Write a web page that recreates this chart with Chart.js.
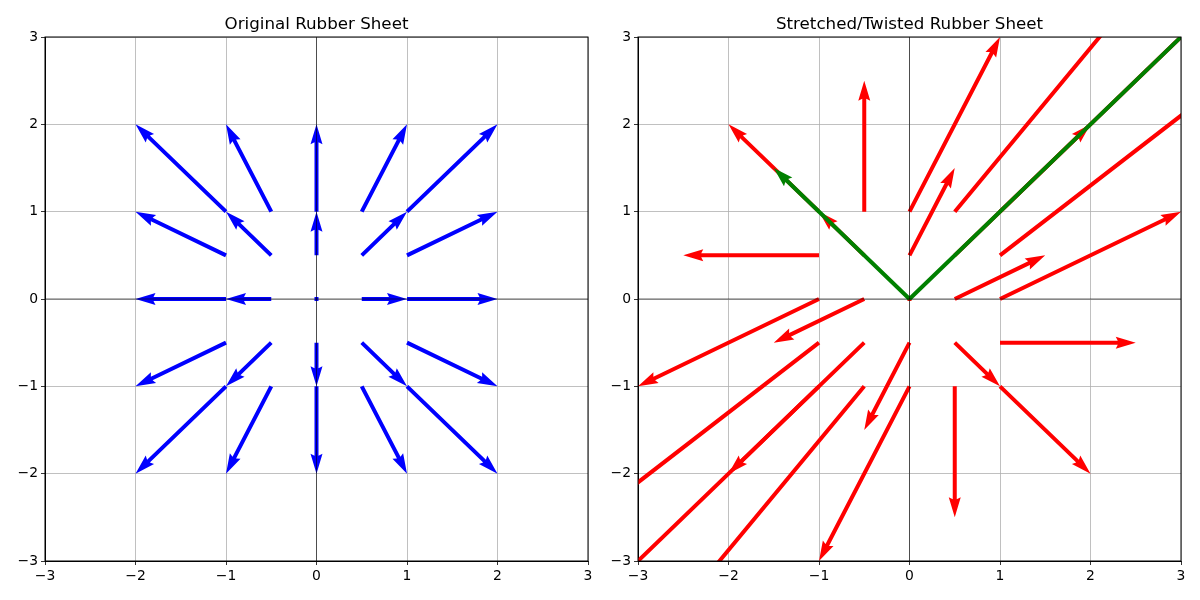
<!DOCTYPE html>
<html>
<head>
<meta charset="utf-8">
<script src="https://cdn.jsdelivr.net/npm/chart.js@4.4.0/dist/chart.umd.min.js"></script>
<style>
  body { margin: 0; background: #fff; }
  #wrap { position: relative; width: 1200px; height: 600px; }
  canvas { position: absolute; top: 0; }
</style>
</head>
<body>
<div id="wrap">
  <canvas id="leftChart" width="600" height="600" style="left:0px"></canvas>
  <canvas id="rightChart" width="600" height="600" style="left:593px"></canvas>
</div>
<script>
// axis ticks
const tickValues = [-3, -2, -1, 0, 1, 2, 3];

// arrow tails (same 5x5 grid in both panels)
const tailX = [-1, -0.5, 0, 0.5, 1,
               -1, -0.5, 0, 0.5, 1,
               -1, -0.5, 0, 0.5, 1,
               -1, -0.5, 0, 0.5, 1,
               -1, -0.5, 0, 0.5, 1];
const tailY = [1, 1, 1, 1, 1,
               0.5, 0.5, 0.5, 0.5, 0.5,
               0, 0, 0, 0, 0,
               -0.5, -0.5, -0.5, -0.5, -0.5,
               -1, -1, -1, -1, -1];

// original sheet vectors
const origU = [-1, -0.5, 0, 0.5, 1,
               -1, -0.5, 0, 0.5, 1,
               -1, -0.5, 0, 0.5, 1,
               -1, -0.5, 0, 0.5, 1,
               -1, -0.5, 0, 0.5, 1];
const origV = [1, 1, 1, 1, 1,
               0.5, 0.5, 0.5, 0.5, 0.5,
               0, 0, 0, 0, 0,
               -0.5, -0.5, -0.5, -0.5, -0.5,
               -1, -1, -1, -1, -1];

// stretched/twisted sheet vectors
const stretchU = [-1, 0, 1, 2, 3,
                  -1.5, -0.5, 0.5, 1.5, 2.5,
                  -2, -1, 0, 1, 2,
                  -2.5, -1.5, -0.5, 0.5, 1.5,
                  -3, -2, -1, 0, 1];
const stretchV = [1, 1.5, 2, 2.5, 3,
                  0, 0.5, 1, 1.5, 2,
                  -1, -0.5, 0, 0.5, 1,
                  -2, -1.5, -1, -0.5, 0,
                  -3, -2.5, -2, -1.5, -1];

// green direction arrows from the origin
const eigenX = [0, 0];
const eigenY = [0, 0];
const eigenU = [-1.5, 4.5];
const eigenV = [1.5, 4.5];

Chart.defaults.font.family = "'DejaVu Sans', sans-serif";
Chart.defaults.color = '#000';

// quiver-like arrow polygon (pixel units, like matplotlib defaults)
const SHAFT = 4, HEAD_W = 12, HEAD_L = 20, HEAD_AX = 18;
function drawArrow(ctx, x0, y0, x1, y1) {
  const dx = x1 - x0, dy = y1 - y0;
  const L = Math.hypot(dx, dy);
  if (L < 1) {
    ctx.fillRect(x0 - 2, y0 - 2, 4, 4);
    return;
  }
  let k = 1;
  if (L < HEAD_L) k = L / HEAD_L;
  const sw = SHAFT / 2 * k, hw = HEAD_W / 2 * k, hl = HEAD_L * k, ha = HEAD_AX * k;
  ctx.save();
  ctx.translate(x0, y0);
  ctx.rotate(Math.atan2(dy, dx));
  ctx.beginPath();
  ctx.moveTo(0, -sw);
  ctx.lineTo(L - ha, -sw);
  ctx.lineTo(L - hl, -hw);
  ctx.lineTo(L, 0);
  ctx.lineTo(L - hl, hw);
  ctx.lineTo(L - ha, sw);
  ctx.lineTo(0, sw);
  ctx.closePath();
  ctx.fill();
  ctx.restore();
}

const quiverPlugin = {
  id: 'quiver',
  afterDatasetsDraw(chart) {
    const {ctx, chartArea: a, scales: {x, y}} = chart;
    ctx.save();
    ctx.beginPath();
    ctx.rect(a.left, a.top, a.right - a.left, a.bottom - a.top);
    ctx.clip();
    chart.data.datasets.forEach(ds => {
      ctx.fillStyle = ds.arrowColor;
      ds.data.forEach((p, i) => {
        drawArrow(ctx,
          x.getPixelForValue(p.x), y.getPixelForValue(p.y),
          x.getPixelForValue(p.x + ds.u[i]), y.getPixelForValue(p.y + ds.v[i]));
      });
    });
    ctx.restore();
  },
  afterDraw(chart) {
    const {ctx, chartArea: a, scales: {x, y}} = chart;
    ctx.save();
    // zero lines
    ctx.strokeStyle = '#000';
    ctx.lineWidth = 0.6;
    const zx = x.getPixelForValue(0), zy = y.getPixelForValue(0);
    ctx.beginPath();
    ctx.moveTo(a.left, zy); ctx.lineTo(a.right, zy);
    ctx.moveTo(zx, a.top); ctx.lineTo(zx, a.bottom);
    ctx.stroke();
    // frame
    ctx.lineWidth = 1;
    ctx.strokeRect(a.left, a.top, a.right - a.left, a.bottom - a.top);
    // title centred over the plot area
    ctx.fillStyle = '#000';
    ctx.font = "16.7px 'DejaVu Sans', sans-serif";
    ctx.textAlign = 'center';
    ctx.textBaseline = 'alphabetic';
    ctx.fillText(chart.options.plugins.panelTitle.text, (a.left + a.right) / 2, 29);
    ctx.restore();
  }
};

function fmtTick(v) {
  return v < 0 ? '\u2212' + Math.abs(v) : String(v);
}

function makeChart(id, title, datasets) {
  const axis = (pos) => ({
    type: 'linear',
    position: pos,
    min: -3,
    max: 3,
    z: 1,
    afterBuildTicks: s => { s.ticks = tickValues.map(v => ({value: v})); },
    afterFit: s => { if (pos === 'left') s.width = 45; else s.height = 39; },
    grid: { color: '#b0b0b0', lineWidth: 0.8, tickLength: 4, tickColor: '#000' },
    border: { color: '#000', width: 1 },
    ticks: { font: { size: 13.9 }, padding: 3, maxRotation: 0, callback: v => fmtTick(v) }
  });
  return new Chart(document.getElementById(id), {
    type: 'scatter',
    data: { datasets: datasets },
    options: {
      responsive: false,
      animation: false,
      devicePixelRatio: 1,
      layout: { padding: { top: 37, right: 12 } },
      elements: { point: { radius: 0, hoverRadius: 0 } },
      plugins: {
        legend: { display: false },
        tooltip: { enabled: false },
        title: { display: false },
        panelTitle: { text: title }
      },
      scales: { x: axis('bottom'), y: axis('left') }
    },
    plugins: [quiverPlugin]
  });
}

const toPoints = (xs, ys) => xs.map((v, i) => ({x: v, y: ys[i]}));

makeChart('leftChart', 'Original Rubber Sheet', [
  { label: 'original', data: toPoints(tailX, tailY), u: origU, v: origV, arrowColor: '#0000ff' }
]);

makeChart('rightChart', 'Stretched/Twisted Rubber Sheet', [
  { label: 'stretched', data: toPoints(tailX, tailY), u: stretchU, v: stretchV, arrowColor: '#ff0000' },
  { label: 'directions', data: toPoints(eigenX, eigenY), u: eigenU, v: eigenV, arrowColor: '#008000' }
]);
</script>
</body>
</html>
